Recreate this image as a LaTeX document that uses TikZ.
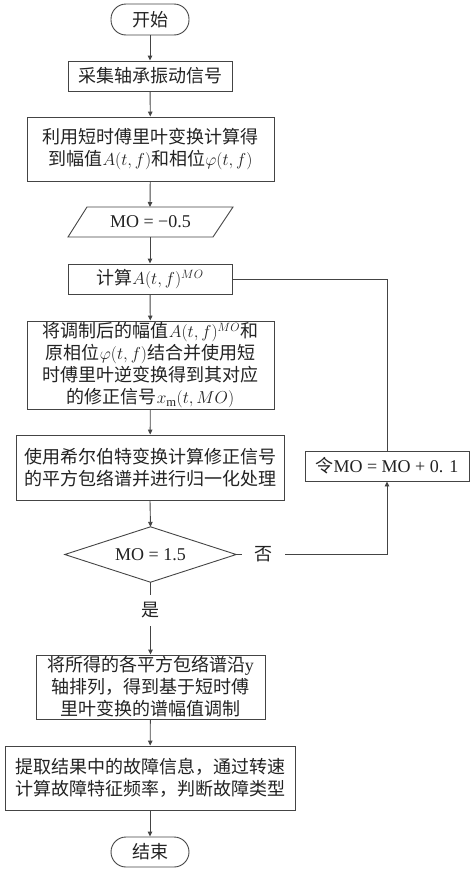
\documentclass[tikz,border=0pt]{standalone}
\usepackage{fontspec}
\setmainfont{Liberation Serif}
\newfontfamily\cjk{Noto Sans CJK SC}
\usetikzlibrary{shapes.geometric,arrows.meta}
\definecolor{ln}{HTML}{444444}
\definecolor{tx}{HTML}{222222}
\tikzset{
  base/.style={draw=ln,line width=0.9pt,inner sep=0pt,align=center,text=tx,
     font=\cjk\fontsize{18}{22}\selectfont},
  boxn/.style={base,rectangle},
  term/.style={base,rounded corners=15pt},
  lbl/.style={inner sep=0pt,text=tx,align=center,font=\cjk\fontsize{18}{22}\selectfont},
  conn/.style={draw=ln,line width=0.9pt},
  arr/.style={conn,-{Triangle[length=5pt,width=4.5pt]}},
}
\begin{document}
\begin{tikzpicture}[x=1pt,y=-1pt]
\useasboundingbox (0,0) rectangle (474,873);
\node[term,minimum width=78,minimum height=31] (start) at (150,19.5) {开始};
\node[boxn,minimum width=164,minimum height=30] (b1) at (150,76) {采集轴承振动信号};
\node[boxn,minimum width=247,minimum height=64] (b2) at (150.5,149) {利用短时傅里叶变换计算得\\到幅值$A(t,f)$和相位$\varphi(t,f)$};
\node[lbl,minimum width=146,minimum height=30] (para) at (150.5,222) {\rmfamily MO = −0.5};
\draw[conn] (87,207) -- (233,207) -- (213,237) -- (68,237) -- cycle;
\node[boxn,minimum width=164,minimum height=30] (b3) at (150,279) {计算$A(t,f)^{MO}$};
\node[boxn,minimum width=247,minimum height=88] (b4) at (150.5,365) {将调制后的幅值$A(t,f)^{MO}$和\\原相位$\varphi(t,f)$结合并使用短\\时傅里叶逆变换得到其对应\\的修正信号$x_{\mathrm{m}}(t,MO)$};
\node[boxn,minimum width=268,minimum height=65] (b5) at (150,467.5) {使用希尔伯特变换计算修正信号\\的平方包络谱并进行归一化处理};
\node[boxn,minimum width=164,minimum height=30] (mo) at (387,466) {令{\rmfamily MO = MO + 0. 1}};
\node[lbl,minimum width=171,minimum height=55] (dia) at (150.5,554.5) {\rmfamily MO = 1.5};
\draw[conn] (dia.north) -- (dia.east) -- (dia.south) -- (dia.west) -- cycle;
\node[lbl,minimum width=43,minimum height=20] (no) at (263.5,554.5) {否};
\node[lbl,minimum width=20,minimum height=31] (yes) at (150.5,610.5) {是};
\node[boxn,minimum width=229,minimum height=64] (b6) at (150.5,687) {将所得的各平方包络谱沿{\rmfamily y}\\轴排列，得到基于短时傅\\里叶变换的谱幅值调制};
\node[boxn,minimum width=290,minimum height=64] (b7) at (150,778) {提取结果中的故障信息，通过转速\\计算故障特征频率，判断故障类型};
\node[term,minimum width=78,minimum height=30] (end) at (150,852) {结束};
\coordinate (c1) at (387,279);
\coordinate (c2) at (387,554.5);
\draw[arr] (start) -- (b1);
\draw[arr] (b1) -- (b2);
\draw[arr] (b2) -- (150,207);
\draw[arr] (150,237) -- (b3);
\draw[arr] (b3) -- (b4);
\draw[arr] (b4) -- (b5);
\draw[arr] (b5.south) -- (dia.north);
\draw[conn] (dia.east) -- (no.west);
\draw[arr] (no.east) -- (c2) -- (mo.south);
\draw[conn] (mo.north) -- (c1) -- (b3.east);
\draw[conn] (dia.south) -- (yes.north);
\draw[arr] (yes.south) -- (b6);
\draw[arr] (b6) -- (b7);
\draw[arr] (b7) -- (end);
\end{tikzpicture}
\end{document}
